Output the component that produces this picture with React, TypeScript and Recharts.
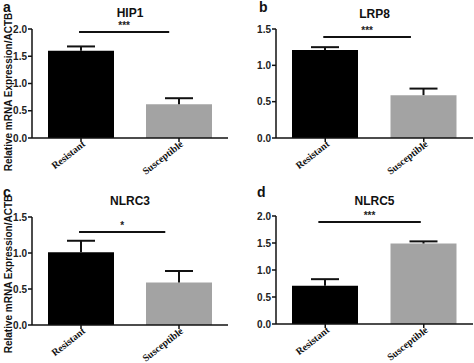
import React from 'react';
import { BarChart, Bar, XAxis, YAxis, Cell, ReferenceLine } from 'recharts';

const groups = ['Resistant', 'Susceptible'];
const slots = [0.5, 1.5];
const barColors = ['#000000', '#a3a3a3'];

const hip1Mean = [1.6, 0.62];
const hip1Sem = [0.08, 0.11];
const lrp8Mean = [1.21, 0.59];
const lrp8Sem = [0.04, 0.09];
const nlrc3Mean = [1.01, 0.59];
const nlrc3Sem = [0.16, 0.16];
const nlrc5Mean = [0.71, 1.49];
const nlrc5Sem = [0.12, 0.04];

const ticks2 = [0, 0.5, 1, 1.5, 2];
const ticks15 = [0, 0.5, 1, 1.5];

// significance bars: [y, xStart, xEnd] in data units (x on a 0..2 scale across the plot)
const sigA = [1.945, 0.48, 1.4];
const sigB = [1.39, 0.48, 1.37];
const sigC = [1.29, 0.48, 1.36];
const sigD = [1.89, 0.43, 1.47];

const SANS = '"Liberation Sans", Arial, sans-serif';
const SERIF = '"Liberation Serif", "Times New Roman", serif';

const rows = (mean: number[], sem: number[]) =>
    groups.map((g, i) => ({ group: g, slot: slots[i], mean: mean[i], sem: sem[i] }));

// only the upper arm of the error bar, drawn on a stacked segment
const ErrorShape = (props: any) => {
    const { x, y, width, height } = props;
    const cx = x + width / 2;
    return (
        <g>
            <line x1={cx} y1={y + height} x2={cx} y2={y} stroke="#111" strokeWidth={2} />
            <line x1={cx - 14} y1={y} x2={cx + 14} y2={y} stroke="#111" strokeWidth={2} />
        </g>
    );
};

const GroupTick = (props: any) => {
    const { x, y, payload } = props;
    return (
        <g transform={`translate(${x},${y})`}>
            <text
                x={3}
                y={0}
                dy={4}
                textAnchor="end"
                transform="rotate(-38)"
                fontFamily={SERIF}
                fontWeight="bold"
                fontSize={10}
                fill="#111"
            >
                {payload.value}
            </text>
        </g>
    );
};

type PanelProps = {
    left: number;
    top: number;
    height: number;
    letter: string;
    letterX: number;
    letterY: number;
    title: string;
    titleY: number;
    yLabel: boolean;
    yWidth: number;
    marginTop: number;
    marginRight: number;
    xHeight: number;
    max: number;
    ticks: number[];
    mean: number[];
    sem: number[];
    sig: number[];
    stars: string;
};

const Panel = (p: PanelProps) => {
    const data = rows(p.mean, p.sem);
    const plotLeft = p.yWidth;
    const plotRight = 237 - p.marginRight;
    const titleX = (plotLeft + plotRight) / 2;
    return (
        <div style={{ position: 'absolute', left: p.left, top: p.top, width: 237, height: p.height }}>
            <BarChart
                width={237}
                height={p.height}
                data={data}
                margin={{ top: p.marginTop, right: p.marginRight, left: 0, bottom: 2 }}
                barSize={66}
            >
                <XAxis
                    xAxisId="cat"
                    dataKey="group"
                    interval={0}
                    height={p.xHeight}
                    tickSize={4}
                    tick={<GroupTick />}
                    axisLine={{ stroke: '#111', strokeWidth: 1.5 }}
                    tickLine={{ stroke: '#111', strokeWidth: 1.5 }}
                />
                <XAxis
                    xAxisId="sig"
                    dataKey="slot"
                    type="number"
                    scale="linear"
                    domain={[0, 2]}
                    allowDataOverflow
                    height={0}
                    tick={false}
                    axisLine={false}
                    tickLine={false}
                    padding={{ left: 0, right: 0 }}
                />
                <YAxis
                    width={p.yWidth}
                    domain={[0, p.max]}
                    ticks={p.ticks}
                    tickFormatter={(v: number) => v.toFixed(1)}
                    tickSize={4}
                    tickMargin={1}
                    axisLine={{ stroke: '#111', strokeWidth: 1.5 }}
                    tickLine={{ stroke: '#111', strokeWidth: 1.5 }}
                    tick={{ fontFamily: SANS, fontWeight: 'bold', fontSize: 10, fill: '#222' }}
                    allowDataOverflow
                />
                <Bar xAxisId="cat" dataKey="mean" stackId="s" isAnimationActive={false}>
                    {data.map((d, i) => (
                        <Cell key={d.group} fill={barColors[i]} />
                    ))}
                </Bar>
                <Bar xAxisId="cat" dataKey="sem" stackId="s" shape={<ErrorShape />} isAnimationActive={false} />
                <ReferenceLine
                    xAxisId="sig"
                    segment={[
                        { x: p.sig[1], y: p.sig[0] },
                        { x: p.sig[2], y: p.sig[0] },
                    ]}
                    stroke="#111"
                    strokeWidth={2}
                    ifOverflow="visible"
                    label={{
                        value: p.stars,
                        position: 'top',
                        offset: 3,
                        fill: '#222',
                        fontSize: 10,
                        fontWeight: 'bold',
                        fontFamily: SANS,
                    }}
                />
            </BarChart>
            <svg
                width={237}
                height={p.height}
                style={{ position: 'absolute', left: 0, top: 0, pointerEvents: 'none' }}
            >
                <text x={p.letterX} y={p.letterY} fontFamily={SANS} fontWeight="bold" fontSize={14} fill="#111">
                    {p.letter}
                </text>
                <text
                    x={titleX}
                    y={p.titleY}
                    textAnchor="middle"
                    fontFamily={SANS}
                    fontWeight="bold"
                    fontSize={12}
                    fill="#111"
                >
                    {p.title}
                </text>
                {p.yLabel && (
                    <text
                        x={8}
                        y={92}
                        textAnchor="middle"
                        dominantBaseline="central"
                        transform={`rotate(-90, 8, 92)`}
                        fontFamily={SANS}
                        fontWeight="bold"
                        fontSize={10}
                        fill="#111"
                    >
                        Relative mRNA Expression/ACTB
                    </text>
                )}
            </svg>
        </div>
    );
};

export default function App() {
    return (
        <div
            style={{
                position: 'absolute',
                left: 0,
                top: 0,
                width: 474,
                height: 363,
                background: '#fff',
                overflow: 'hidden',
            }}
        >
            <Panel
                left={0}
                top={0}
                height={182}
                letter="a"
                letterX={3}
                letterY={12}
                title="HIP1"
                titleY={17}
                yLabel
                yWidth={32}
                marginTop={29}
                marginRight={9}
                xHeight={42}
                max={2}
                ticks={ticks2}
                mean={hip1Mean}
                sem={hip1Sem}
                sig={sigA}
                stars="***"
            />
            <Panel
                left={237}
                top={0}
                height={182}
                letter="b"
                letterX={22}
                letterY={12}
                title="LRP8"
                titleY={18}
                yLabel={false}
                yWidth={39}
                marginTop={29}
                marginRight={1}
                xHeight={42}
                max={1.5}
                ticks={ticks15}
                mean={lrp8Mean}
                sem={lrp8Sem}
                sig={sigB}
                stars="***"
            />
            <Panel
                left={0}
                top={182}
                height={181}
                letter="c"
                letterX={3}
                letterY={15}
                title="NLRC3"
                titleY={23}
                yLabel
                yWidth={32}
                marginTop={35}
                marginRight={9}
                xHeight={36}
                max={1.5}
                ticks={ticks15}
                mean={nlrc3Mean}
                sem={nlrc3Sem}
                sig={sigC}
                stars="*"
            />
            <Panel
                left={237}
                top={182}
                height={181}
                letter="d"
                letterX={20}
                letterY={15}
                title="NLRC5"
                titleY={23}
                yLabel={false}
                yWidth={39}
                marginTop={34}
                marginRight={1}
                xHeight={37}
                max={2}
                ticks={ticks2}
                mean={nlrc5Mean}
                sem={nlrc5Sem}
                sig={sigD}
                stars="***"
            />
        </div>
    );
}
